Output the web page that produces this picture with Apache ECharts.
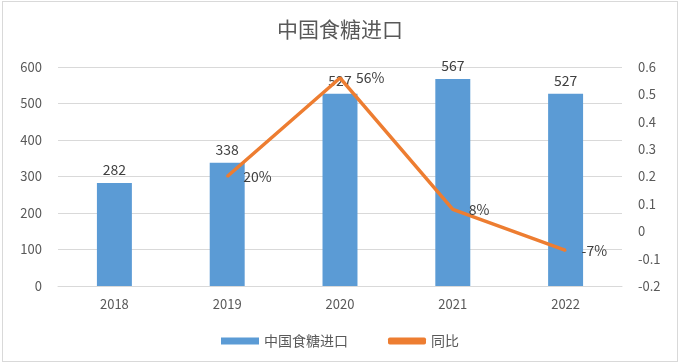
<!DOCTYPE html>
<html>
<head>
<meta charset="utf-8">
<script src="https://cdn.jsdelivr.net/npm/echarts@6/dist/echarts.min.js"></script>
<style>
  html, body { margin: 0; padding: 0; background: #fff; }
  #chart { position: absolute; left: 2px; top: 1px; width: 676px; height: 361px; border: 1px solid #d9d9d9; box-sizing: border-box; }
</style>
</head>
<body>
<div id="chart"></div>
<script>
var years = ['2018', '2019', '2020', '2021', '2022'];
var imports = [282, 338, 527, 567, 527];
var yoy = [null, 0.2, 0.56, 0.08, -0.07];
var leftTicks = [0, 600, 100];
var rightTicks = [-0.2, 0.6, 0.1];

var chart = echarts.init(document.getElementById('chart'));
var txt = '#595959';

var option = {
  animation: false,
  textStyle: { fontFamily: '"Noto Sans CJK SC", "Liberation Sans", sans-serif' },
  title: {
    text: '中国食糖进口',
    left: 'center',
    top: 12,
    textStyle: { fontSize: 21, fontWeight: 'normal', color: txt }
  },
  legend: {
    bottom: 8,
    itemGap: 40,
    itemWidth: 38,
    itemHeight: 7,
    textStyle: { fontSize: 14, color: txt },
    data: [
      { name: '中国食糖进口', icon: 'rect' },
      { name: '同比', icon: 'roundRect' }
    ]
  },
  grid: { left: 55, right: 55, top: 65, bottom: 75 },
  xAxis: {
    type: 'category',
    data: years,
    axisLine: { lineStyle: { color: '#d9d9d9' } },
    axisTick: { show: false },
    axisLabel: { color: txt, fontSize: 13, margin: 12 }
  },
  yAxis: [
    {
      type: 'value',
      min: leftTicks[0], max: leftTicks[1], interval: leftTicks[2],
      axisLine: { show: false },
      axisTick: { show: false },
      axisLabel: { color: txt, fontSize: 13, margin: 16 },
      splitLine: { lineStyle: { color: '#d9d9d9' } }
    },
    {
      type: 'value',
      min: rightTicks[0], max: rightTicks[1], interval: rightTicks[2],
      axisLine: { show: false },
      axisTick: { show: false },
      axisLabel: {
        color: txt, fontSize: 13, margin: 16, align: 'left',
        formatter: function (v) { return String(Math.round(v * 10) / 10); }
      },
      splitLine: { show: false }
    }
  ],
  series: [
    {
      name: '中国食糖进口',
      type: 'bar',
      data: imports,
      barWidth: '31%',
      itemStyle: { color: '#5b9bd5' },
      label: { show: true, position: 'top', color: '#404040', fontSize: 14, distance: 6 }
    },
    {
      name: '同比',
      type: 'line',
      yAxisIndex: 1,
      data: yoy,
      symbol: 'circle',
      symbolSize: 2,
      showSymbol: true,
      lineStyle: { color: '#ed7d31', width: 3.5 },
      itemStyle: { color: '#ed7d31' },
      label: {
        show: true, position: 'right', color: '#404040', fontSize: 14, distance: 15,
        formatter: function (p) {
          return p.value == null ? '' : Math.round(p.value * 100) + '%';
        }
      }
    }
  ]
};

chart.setOption(option);
</script>
</body>
</html>
